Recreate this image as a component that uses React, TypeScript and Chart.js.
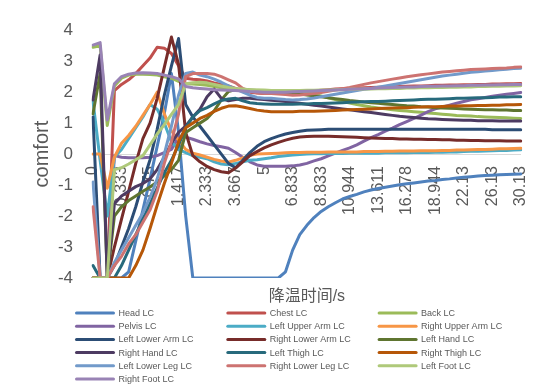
import React, { useEffect, useRef } from 'react';
import { Chart, registerables } from 'chart.js';
Chart.register(...registerables);

const timeLabels = ['0','0.083','0.167','0.25','0.333','0.417','0.5','0.583','0.75','0.917','1.083','1.25','1.417','1.667','1.917','2.083','2.333','2.667','3','3.333','3.667','4','4.333','4.667','5','5.5','6','6.417','6.833','7.333','7.833','8.333','8.833','9.333','9.889','10.444','10.944','11.611','12.278','12.944','13.611','14.278','14.944','15.611','16.278','16.944','17.611','18.278','18.944','19.74','20.54','21.33','22.13','23.13','24.13','25.13','26.13','27.13','28.13','29.13','30.13'];

const headLC = [-4,-4,-4,-4,-4,-3.8,-2.8,-1.8,-0.8,0.25, 1.3,2.6,0.7,-2.0,-4,-4,-4,-4,-4,-4, -4,-4,-4,-4,-4,-4,-4,-3.8,-3.1,-2.6, -2.3,-2.05,-1.85,-1.7,-1.57,-1.45,-1.37,-1.3,-1.22,-1.16, -1.11,-1.07,-1.03,-0.99,-0.96,-0.93,-0.9,-0.87,-0.85,-0.82, -0.8,-0.77,-0.75,-0.73,-0.71,-0.69,-0.68,-0.67,-0.66,-0.65, -0.64];
const chestLC = [-4,-4,-4,2.05,2.25,2.4,2.6,2.85,3.1,3.45, 3.42,3.25,2.85,2.45,2.42,2.4,2.36,2.3,2.25,2.2, 2.12,2.05,2.0,1.97,1.96,1.96,1.96,1.97,1.98,2.0, 2.02,2.04,2.06,2.08,2.1,2.11,2.12,2.13,2.14,2.15, 2.16,2.17,2.17,2.18,2.19,2.2,2.2,2.21,2.22,2.22, 2.23,2.23,2.24,2.24,2.25,2.25,2.26,2.26,2.27,2.27, 2.28];
const backLC = [3.45,3.5,0.92,2.2,2.45,2.55,2.58,2.58,2.57,2.55, 2.5,2.45,2.35,2.27,2.26,2.25,2.22,2.18,2.14,2.1, 2.08,2.07,2.07,2.06,2.06,2.05,2.04,2.03,2.02,2.0, 1.97,1.93,1.88,1.82,1.76,1.7,1.65,1.6,1.56,1.52, 1.49,1.46,1.43,1.41,1.39,1.37,1.35,1.33,1.31,1.29, 1.27,1.25,1.24,1.23,1.21,1.2,1.19,1.18,1.17,1.16, 1.15];
const pelvisLC = [-4,-4,-4,-0.05,-0.1,-0.12,-0.12,-0.12,-0.1,-0.05, 0.05,0.15,0.55,0.55,0.48,0.4,0.33,0.28,0.24,0.19, 0.05,-0.1,-0.25,-0.35,-0.39,-0.39,-0.39,-0.39,-0.38,-0.35, -0.3,-0.22,-0.15,-0.06,0.03,0.12,0.2,0.3,0.42,0.53, 0.63,0.74,0.84,0.95,1.05,1.15,1.26,1.37,1.46,1.52, 1.58,1.64,1.7,1.75,1.79,1.83,1.87,1.9,1.93,1.96, 1.99];
const leftUpperArmLC = [1.7,-0.2,-2.0,-0.1,0.15,0.5,0.85,1.2,1.6,1.45, 1.0,0.4,0.15,0.05,-0.05,-0.1,-0.15,-0.25,-0.32,-0.34, -0.3,-0.25,-0.2,-0.18,-0.15,-0.12,-0.08,-0.05,-0.03,-0.01, 0.0,0.01,0.01,0.02,0.02,0.02,0.03,0.03,0.03,0.03, 0.03,0.04,0.04,0.04,0.04,0.05,0.05,0.05,0.06,0.06, 0.07,0.07,0.08,0.09,0.09,0.1,0.11,0.12,0.12,0.13, 0.14];
const rightUpperArmLC = [0,0,-1.1,-0.1,0.35,0.6,0.9,1.25,1.6,2.0, 1.3,0.75,0.45,0.15,0.03,-0.03,-0.1,-0.17,-0.22,-0.26, -0.2,-0.12,-0.04,0.0,0.01,0.02,0.03,0.04,0.05,0.05, 0.06,0.06,0.06,0.07,0.07,0.07,0.07,0.07,0.08,0.08, 0.08,0.09,0.09,0.1,0.1,0.1,0.11,0.11,0.11,0.12, 0.12,0.13,0.13,0.14,0.15,0.15,0.16,0.17,0.17,0.18, 0.19];
const leftLowerArmLC = [1.2,-4,-4,-3.6,-3.0,-2.4,-1.7,-0.9,-0.18,0.8, 1.9,2.85,3.73,1.6,1.2,0.9,0.6,0.3,0.0,-0.3, -0.44,-0.2,0.05,0.25,0.4,0.5,0.58,0.65,0.7,0.74, 0.77,0.78,0.79,0.8,0.8,0.8,0.8,0.8,0.8,0.8, 0.8,0.8,0.8,0.8,0.8,0.8,0.8,0.8,0.8,0.8, 0.8,0.8,0.8,0.8,0.8,0.8,0.79,0.79,0.79,0.79, 0.79];
const rightLowerArmLC = [-4,-4,-4,-3.0,-2.1,-1.2,-0.3,0.5,1.0,1.8, 2.8,3.78,2.9,0.7,-0.05,-0.25,-0.4,-0.5,-0.57,-0.6, -0.45,-0.25,-0.05,0.08,0.2,0.3,0.38,0.45,0.51,0.55, 0.57,0.58,0.58,0.58,0.57,0.56,0.55,0.54,0.53,0.52, 0.51,0.5,0.5,0.49,0.49,0.48,0.48,0.47,0.47,0.46, 0.46,0.45,0.45,0.44,0.44,0.43,0.43,0.43,0.42,0.42, 0.42];
const leftHandLC = [1.3,2.6,-4,-2.0,-1.7,-1.5,-1.35,-1.2,-1.06,-0.9, -0.7,-0.5,-0.2,0.7,0.85,1.0,1.15,1.4,1.75,2.02, 2.08,2.07,2.06,2.05,2.04,2.03,2.01,1.99,1.97,1.94, 1.91,1.88,1.85,1.82,1.79,1.76,1.73,1.71,1.68,1.66, 1.64,1.62,1.6,1.58,1.56,1.55,1.53,1.52,1.5,1.49, 1.48,1.47,1.46,1.45,1.44,1.43,1.43,1.42,1.42,1.41, 1.41];
const rightHandLC = [1.75,3.2,-4,-1.6,-1.35,-1.2,-1.05,-0.95,-0.8,-0.5, -0.1,0.35,0.7,0.9,1.2,1.45,1.85,2.1,1.8,1.72, 1.76,1.8,1.8,1.78,1.76,1.74,1.72,1.7,1.67,1.64, 1.61,1.58,1.55,1.52,1.49,1.46,1.43,1.4,1.37,1.34, 1.31,1.28,1.25,1.22,1.2,1.18,1.16,1.14,1.13,1.12, 1.11,1.1,1.09,1.09,1.08,1.08,1.08,1.07,1.07,1.07, 1.07];
const leftThighLC = [-3.6,-4,-4,-4,-3.6,-3.1,-2.6,-2.1,-1.6,-1.1, -0.6,-0.2,0.3,0.85,1.2,1.4,1.5,1.62,1.73,1.78, 1.8,1.72,1.66,1.63,1.62,1.61,1.61,1.61,1.61,1.62, 1.62,1.63,1.63,1.64,1.65,1.66,1.67,1.68,1.69,1.7, 1.7,1.71,1.72,1.73,1.74,1.75,1.76,1.77,1.77,1.78, 1.79,1.8,1.8,1.81,1.82,1.82,1.83,1.84,1.84,1.85, 1.85];
const rightThighLC = [-4,-4,-4,-4,-4,-4,-3.6,-3.1,-2.4,-1.65, -0.95,-0.3,0.4,0.85,1.0,1.15,1.25,1.38,1.48,1.55, 1.56,1.52,1.47,1.42,1.39,1.37,1.37,1.37,1.37,1.38, 1.38,1.38,1.39,1.4,1.41,1.42,1.43,1.44,1.45,1.46, 1.47,1.48,1.49,1.5,1.5,1.51,1.52,1.53,1.53,1.54, 1.55,1.55,1.56,1.56,1.57,1.57,1.58,1.58,1.59,1.59, 1.6];
const leftLowerLegLC = [-0.9,-4,-4,-3.5,-3.1,-2.7,-2.3,-1.9,-1.4,-0.8, 0.0,0.9,1.9,2.6,2.65,2.55,2.5,2.42,2.32,2.2, 2.1,2.0,1.9,1.83,1.8,1.8,1.78,1.76,1.75,1.76, 1.78,1.81,1.85,1.89,1.93,1.97,2.01,2.05,2.09,2.12, 2.16,2.2,2.24,2.28,2.32,2.36,2.4,2.44,2.48,2.52, 2.55,2.58,2.61,2.64,2.66,2.68,2.7,2.72,2.74,2.76, 2.77];
const rightLowerLegLC = [-1.7,-4,-4,-3.6,-3.3,-2.9,-2.6,-2.2,-1.8,-1.2, -0.3,0.4,1.3,2.5,2.6,2.6,2.6,2.58,2.5,2.4, 2.3,2.12,2.03,1.98,1.96,1.96,1.94,1.92,1.9,1.91, 1.93,1.96,1.99,2.03,2.07,2.11,2.15,2.2,2.25,2.3, 2.34,2.38,2.42,2.46,2.5,2.53,2.56,2.59,2.62,2.65, 2.67,2.69,2.71,2.73,2.74,2.75,2.76,2.77,2.78,2.8, 2.81];
const leftFootLC = [-4,-4,-4,-0.5,-0.44,-0.32,-0.18,-0.05,0.3,0.65, 0.95,1.28,1.6,2.27,2.3,2.32,2.3,2.25,2.2,2.15, 2.12,2.1,2.08,2.07,2.06,2.05,2.05,2.05,2.05,2.05, 2.06,2.06,2.07,2.07,2.08,2.08,2.09,2.09,2.1,2.1, 2.11,2.11,2.12,2.12,2.13,2.13,2.14,2.14,2.15,2.15, 2.16,2.16,2.17,2.17,2.18,2.18,2.19,2.19,2.2,2.2, 2.21];
const rightFootLC = [3.52,3.6,1.1,2.27,2.5,2.58,2.62,2.63,2.62,2.6, 2.55,2.5,2.43,2.18,2.14,2.12,2.1,2.08,2.07,2.06, 2.05,2.04,2.02,2.01,2.0,2.0,2.0,2.0,2.01,2.02, 2.03,2.04,2.05,2.06,2.07,2.08,2.09,2.1,2.11,2.12, 2.13,2.14,2.15,2.16,2.17,2.17,2.18,2.19,2.19,2.2, 2.2,2.21,2.21,2.22,2.22,2.23,2.23,2.24,2.24,2.25, 2.25];

const seriesNames = ['Head LC','Chest LC','Back LC','Pelvis LC','Left Upper Arm LC','Right Upper Arm LC','Left Lower Arm LC','Right Lower Arm LC','Left Hand LC','Right Hand LC','Left Thigh LC','Right Thigh LC','Left Lower Leg LC','Right Lower Leg LC','Left Foot LC','Right Foot LC'];
const seriesColors = ['#4F81BD','#C0504D','#9BBB59','#8064A2','#4BACC6','#F79646','#2C4D75','#772C2A','#5F7530','#4D3B62','#276A7C','#B65708','#729ACA','#CD7371','#AFC97A','#9983B5'];

const xTitle = '降温时间/s';
const yTitle = 'comfort';
const yMin = -4;
const yMax = 4;

const TEXT = '#595959';
const FONT = '"Liberation Sans", "Noto Sans CJK SC", sans-serif';

export default function App() {
  const ref = useRef<HTMLCanvasElement>(null);
  useEffect(() => {
    const series = [headLC, chestLC, backLC, pelvisLC, leftUpperArmLC, rightUpperArmLC, leftLowerArmLC, rightLowerArmLC, leftHandLC, rightHandLC, leftThighLC, rightThighLC, leftLowerLegLC, rightLowerLegLC, leftFootLC, rightFootLC];
    const datasets = series.map((d, k) => ({
      label: seriesNames[k],
      data: d,
      borderColor: seriesColors[k],
      backgroundColor: seriesColors[k],
      borderWidth: 3,
      pointRadius: 0,
      pointHoverRadius: 0,
      tension: 0,
      fill: false,
      order: series.length - k,
      borderJoinStyle: 'round' as const,
      borderCapStyle: 'round' as const,
    }));
    const legendPlugin = {
      id: 'excelLegend',
      afterDraw(chart: any) {
        const ctx = chart.ctx;
        const area = chart.chartArea;
        ctx.save();
        ctx.fillStyle = TEXT;
        ctx.font = '16px ' + FONT;
        ctx.textAlign = 'center';
        ctx.textBaseline = 'middle';
        ctx.fillText(xTitle, (area.left + area.right) / 2, 297);
        ctx.font = '9px ' + FONT;
        ctx.textAlign = 'left';
        chart.data.datasets.forEach((ds: any, k: number) => {
          const col = k % 3;
          const row = Math.floor(k / 3);
          const x = 75 + col * 151.3;
          const y = 313 + row * 13.2;
          ctx.strokeStyle = ds.borderColor;
          ctx.lineWidth = 3;
          ctx.lineCap = 'round';
          ctx.beginPath();
          ctx.moveTo(x + 1.5, y);
          ctx.lineTo(x + 38.5, y);
          ctx.stroke();
          ctx.fillStyle = TEXT;
          ctx.fillText(ds.label, x + 43.5, y + 0.5);
        });
        ctx.restore();
      },
    };
    const chart = new Chart(ref.current!, {
      type: 'line',
      data: { labels: timeLabels, datasets },
      plugins: [legendPlugin],
      options: {
        animation: false,
        responsive: false,
        devicePixelRatio: 1,
        layout: { padding: { left: 0, right: 26, top: 23, bottom: 107 } },
        plugins: { legend: { display: false }, tooltip: { enabled: false } },
        scales: {
          x: {
            type: 'category',
            position: { y: 0 },
            offset: false,
            grid: { display: false, drawTicks: false },
            border: { display: true, color: '#D9D9D9', width: 1 },
            ticks: {
              autoSkip: false,
              minRotation: 90,
              maxRotation: 90,
              padding: 12,
              color: TEXT,
              font: { size: 16, family: FONT },
              callback: function (this: any, value: any, index: number) {
                return index % 4 === 0 ? this.getLabelForValue(value) : '';
              },
            },
          },
          y: {
            min: yMin,
            max: yMax,
            grid: { display: false, drawTicks: false },
            border: { display: false },
            ticks: { stepSize: 1, padding: 20, color: TEXT, font: { size: 17, family: FONT } },
            title: { display: true, text: yTitle, color: TEXT, font: { size: 20, family: FONT }, padding: { top: 30, bottom: 0 } },
            afterFit: (scale: any) => { scale.width = 93; },
          },
        },
      },
    });
    return () => chart.destroy();
  }, []);
  return (
    <div style={{ position: 'fixed', left: 0, top: 0, width: 552, height: 385, background: '#fff' }}>
      <canvas ref={ref} width={552} height={385} style={{ width: 552, height: 385 }} />
    </div>
  );
}
